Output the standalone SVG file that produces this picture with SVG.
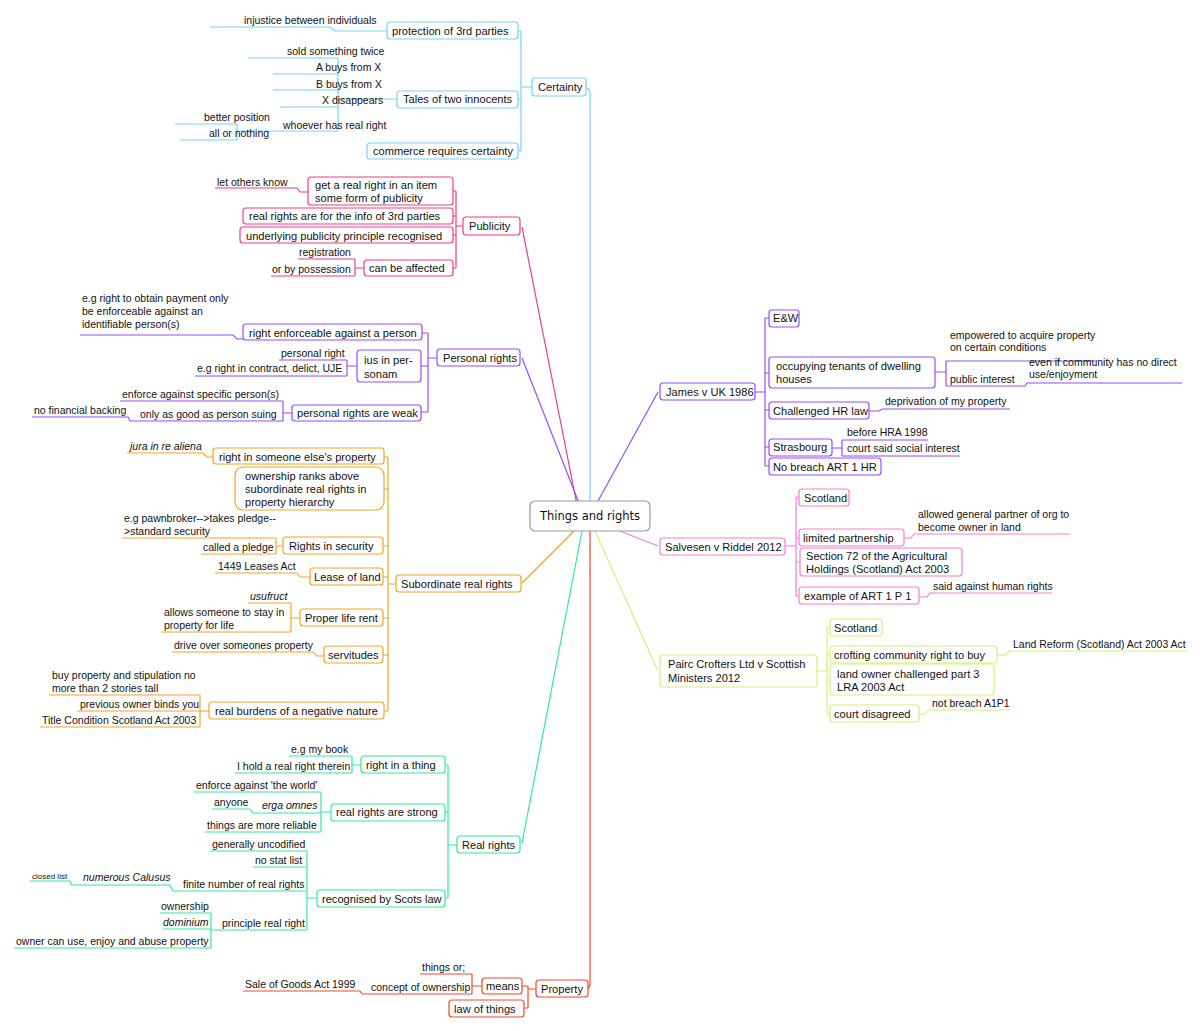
<svg xmlns="http://www.w3.org/2000/svg" width="1200" height="1031" viewBox="0 0 1200 1031">
<style>
text{font-family:"Liberation Sans",Arial,sans-serif;font-size:10.5px;fill:#111}
.b{font-size:11.1px}
.i{font-style:italic}
rect{fill:#fff;stroke-width:1.2}
path,line,polyline{fill:none;stroke-width:1.2}
.cy rect,.cy path,.cy polyline{stroke:#78d2f5}
.pu rect,.pu path,.pu polyline{stroke:#f03c8c}
.pe rect,.pe path,.pe polyline{stroke:#9a4cf5}
.su rect,.su path,.su polyline{stroke:#f7a325}
.re rect,.re path,.re polyline{stroke:#34e8a4}
.pr rect,.pr path,.pr polyline{stroke:#f2482a}
.ja rect,.ja path,.ja polyline{stroke:#9a4cf5}
.sa rect,.sa path,.sa polyline{stroke:#f57ed4}
.pa rect,.pa path,.pa polyline{stroke:#d6f07a}
</style>
<g id="connectors">
<path d="M590,501 V91 L586,87" stroke="#78d2f5"/>
<path d="M577,505 L522,227" stroke="#f03c8c"/>
<path d="M579,503 L522,358" stroke="#9a4cf5"/>
<path d="M578,527 L522,583" stroke="#f7a325"/>
<path d="M582,531 L522,843" stroke="#34e8a4"/>
<path d="M590,531 V985 L588,989" stroke="#f2482a"/>
<path d="M598,501 L658,392" stroke="#9a4cf5"/>
<path d="M620,531 L658,546" stroke="#f57ed4"/>
<path d="M595,531 L658,671" stroke="#d6f07a"/>
</g>
<g id="center"><rect x="530" y="501" width="120" height="30" rx="5" stroke="#999" stroke-width="1.2"/><text x="590" y="520" text-anchor="middle" style="font-size:11.5px;font-family:'DejaVu Sans',sans-serif">Things and rights</text></g>

<g id="certainty" class="cy">
<path d="M521,31 V151 M521,87 H532 M518,31 H521 M518,99 H521 M518,151 H521"/>
<rect x="532" y="78" width="54" height="18" rx="3"/><text class="b" x="538" y="91">Certainty</text>
<rect x="387" y="22" width="131" height="17" rx="3"/><text class="b" x="392" y="35">protection of 3rd parties</text>
<polyline points="210,27 330,27 335,31 387,31"/><text x="244" y="24">injustice between individuals</text>
<rect x="397" y="91" width="121" height="17" rx="3"/><text class="b" x="403" y="103">Tales of two innocents</text>
<path d="M248,58 H338 M273,74 H338 M273,90 H338 M280,107 H338 M237,131 H338 M338,58 V131 M338,99 H397"/>
<text x="287" y="55">sold something twice</text><text x="316" y="71">A buys from X</text><text x="316" y="88">B buys from X</text><text x="322" y="104">X disappears</text><text x="283" y="129">whoever has real right</text>
<path d="M175,124 H237 M180,140 H237 M237,124 V140"/>
<text x="204" y="121">better position</text><text x="209" y="137">all or nothing</text>
<rect x="367" y="143" width="151" height="16" rx="3"/><text class="b" x="373" y="155">commerce requires certainty</text>
</g>

<g id="publicity" class="pu">
<path d="M456,191 V268 M456,226 H463 M453,191 H456 M453,216 H456 M453,235 H456 M453,268 H456"/>
<rect x="463" y="217" width="57" height="18" rx="3"/><text class="b" x="469" y="230">Publicity</text>
<rect x="308" y="177" width="145" height="28" rx="3"/><text class="b" x="315" y="189">get a real right in an item</text><text class="b" x="315" y="202">some form of publicity</text>
<polyline points="215,188 297,188 300,192 308,192"/><text x="217" y="186">let others know</text>
<rect x="243" y="208" width="210" height="16" rx="3"/><text class="b" x="249" y="220">real rights are for the info of 3rd parties</text>
<rect x="240" y="227" width="213" height="16" rx="3"/><text class="b" x="246" y="240">underlying publicity principle recognised</text>
<rect x="364" y="260" width="89" height="16" rx="3"/><text class="b" x="369" y="272">can be affected</text>
<path d="M298,259 H355 M271,276 H355 M355,259 V276 M355,268 H364"/>
<text x="299" y="256">registration</text><text x="272" y="273">or by possession</text>
</g>

<g id="personal" class="pe">
<path d="M428,333 V412 M428,358 H437 M422,333 H428 M421,366 H428 M421,412 H428"/>
<rect x="437" y="349" width="83" height="17" rx="3"/><text class="b" x="443" y="362">Personal rights</text>
<rect x="243" y="324" width="179" height="16" rx="3"/><text class="b" x="249" y="337">right enforceable against a person</text>
<polyline points="80,335 233,335 237,339 243,339"/>
<text x="82" y="302">e.g right to obtain payment only</text><text x="82" y="315">be enforceable against an</text><text x="82" y="328">identifiable person(s)</text>
<rect x="357" y="350" width="64" height="32" rx="3"/><text class="b" x="364" y="364">ius in per-</text><text class="b" x="364" y="378">sonam</text>
<path d="M279,360 H347 M195,376 H347 M347,360 V376 M347,366 H357"/>
<text x="281" y="357">personal right</text><text x="197" y="372">e.g right in contract, delict, UJE</text>
<rect x="292" y="405" width="129" height="16" rx="3"/><text class="b" x="297" y="417">personal rights are weak</text>
<path d="M120,401 H283 M130,421 H283 M283,401 V421 M283,413 H292"/>
<text x="122" y="398">enforce against specific person(s)</text><text x="140" y="418">only as good as person suing</text>
<polyline points="32,417 128,417 130,421"/><text x="34" y="414">no financial backing</text>
</g>

<g id="subordinate" class="su">
<path d="M388,457 V711 M388,584 H396 M384,457 H388 M384,489 H388 M383,546 H388 M383,577 H388 M383,618 H388 M383,655 H388 M384,711 H388"/>
<rect x="396" y="575" width="125" height="17" rx="3"/><text class="b" x="401" y="588">Subordinate real rights</text>
<rect x="213" y="448" width="171" height="16" rx="3"/><text class="b" x="219" y="461">right in someone else's property</text>
<polyline points="127,453 203,453 207,457 213,457"/><text class="i" x="130" y="450">jura in re aliena</text>
<rect x="235" y="467" width="149" height="43" rx="8"/><text class="b" x="245" y="480">ownership ranks above</text><text class="b" x="245" y="493">subordinate real rights in</text><text class="b" x="245" y="506">property hierarchy</text>
<rect x="283" y="537" width="100" height="17" rx="3"/><text class="b" x="289" y="550">Rights in security</text>
<path d="M122,538 H276 M201,554 H276 M276,538 V554 M276,546 H283"/>
<text x="124" y="522">e.g pawnbroker--&gt;takes pledge--</text><text x="124" y="535">&gt;standard security</text><text x="203" y="551">called a pledge</text>
<rect x="310" y="568" width="73" height="17" rx="3"/><text class="b" x="314" y="581">Lease of land</text>
<polyline points="215,573 297,573 300,577 310,577"/><text x="218" y="570">1449 Leases Act</text>
<rect x="300" y="609" width="83" height="17" rx="3"/><text class="b" x="305" y="622">Proper life rent</text>
<path d="M248,603 H291 M162,632 H291 M291,603 V632 M291,618 H300"/>
<text class="i" x="250" y="600">usufruct</text><text x="164" y="616">allows someone to stay in</text><text x="164" y="629">property for life</text>
<rect x="324" y="646" width="59" height="17" rx="3"/><text class="b" x="328" y="659">servitudes</text>
<polyline points="172,652 313,652 317,656 324,656"/><text x="174" y="649">drive over someones property</text>
<rect x="209" y="702" width="175" height="17" rx="3"/><text class="b" x="215" y="715">real burdens of a negative nature</text>
<path d="M49,695 H200 M77,711 H200 M40,727 H200 M200,695 V727 M200,711 H209"/>
<text x="52" y="679">buy property and stipulation no</text><text x="52" y="692">more than 2 stories tall</text><text x="80" y="708">previous owner binds you</text><text x="42" y="724">Title Condition Scotland Act 2003</text>
</g>

<g id="realrights" class="re">
<path d="M448,765 V898 M448,845 H457 M445,765 H448 M445,812 H448 M445,898 H448"/>
<rect x="457" y="836" width="63" height="17" rx="3"/><text class="b" x="462" y="849">Real rights</text>
<rect x="361" y="756" width="84" height="17" rx="3"/><text class="b" x="366" y="769">right in a thing</text>
<path d="M289,756 H352 M235,773 H352 M352,756 V773 M352,765 H361"/>
<text x="291" y="753">e.g my book</text><text x="237" y="770">I hold a real right therein</text>
<rect x="331" y="804" width="114" height="17" rx="3"/><text class="b" x="336" y="816">real rights are strong</text>
<path d="M194,792 H321 M253,813 H321 M205,832 H321 M321,792 V832 M321,812 H331"/>
<polyline points="212,809 250,809 253,813"/>
<text x="196" y="789">enforce against 'the world'</text><text class="i" x="262" y="809">erga omnes</text><text x="214" y="806">anyone</text><text x="207" y="829">things are more reliable</text>
<rect x="317" y="890" width="128" height="17" rx="3"/><text class="b" x="322" y="903">recognised by Scots law</text>
<path d="M210,851 H307 M253,867 H307 M173,891 H307 M222,930 H307 M307,851 V930 M307,898 H317"/>
<text x="212" y="848">generally uncodified</text><text x="255" y="864">no stat list</text><text x="183" y="888">finite number of real rights</text><text x="222" y="927">principle real right</text>
<polyline points="30,881 70,881 72,885 170,885 173,891"/>
<text class="i" x="83" y="881">numerous Calusus</text><text x="32" y="879" style="font-size:8px">closed list</text>
<path d="M160,913 H211 M163,929 H211 M14,948 H211 M211,913 V948 M211,930 H222"/>
<text x="161" y="910">ownership</text><text class="i" x="163" y="926">dominium</text><text x="16" y="945">owner can use, enjoy and abuse property</text>
</g>

<g id="property" class="pr">
<path d="M528,986 V1008 M528,989 H536 M522,986 H528 M524,1008 H528"/>
<rect x="536" y="980" width="52" height="17" rx="3"/><text class="b" x="541" y="993">Property</text>
<rect x="482" y="978" width="40" height="16" rx="3"/><text class="b" x="486" y="990">means</text>
<path d="M420,974 H472 M362,994 H472 M472,974 V994 M472,986 H482"/>
<text x="422" y="971">things or;</text><text x="371" y="991">concept of ownership</text>
<polyline points="243,991 360,991 362,994"/><text x="245" y="988">Sale of Goods Act 1999</text>
<rect x="449" y="1000" width="75" height="17" rx="3"/><text class="b" x="454" y="1013">law of things</text>
</g>

<g id="james" class="ja">
<path d="M765,318 V466 M755,392 H765 M765,318 H769 M765,373 H769 M765,410 H769 M765,447 H769 M765,466 H769"/>
<rect x="660" y="383" width="95" height="17" rx="3"/><text class="b" x="666" y="396">James v UK 1986</text>
<rect x="769" y="310" width="30" height="17" rx="3"/><text class="b" x="773" y="322">E&amp;W</text>
<rect x="769" y="357" width="166" height="31" rx="3"/><text class="b" x="776" y="370">occupying tenants of dwelling</text><text class="b" x="776" y="383">houses</text>
<path d="M946,361 H1095 M946,386 H1025 M946,361 V386 M935,372 H946"/>
<polyline points="1025,386 1027,383 1182,383"/>
<text x="950" y="339">empowered to acquire property</text><text x="950" y="351">on certain conditions</text><text x="950" y="383">public interest</text>
<text x="1029" y="366">even if community has no direct</text><text x="1029" y="378">use/enjoyment</text>
<rect x="769" y="402" width="100" height="17" rx="3"/><text class="b" x="773" y="415">Challenged HR law</text>
<polyline points="869,411 879,411 882,409 1010,409"/><text x="885" y="405">deprivation of my property</text>
<rect x="769" y="439" width="63" height="17" rx="3"/><text class="b" x="773" y="451">Strasbourg</text>
<path d="M842,440 H928 M842,456 H960 M842,440 V456 M832,448 H842"/>
<text x="847" y="436">before HRA 1998</text><text x="847" y="452">court said social interest</text>
<rect x="769" y="458" width="112" height="17" rx="3"/><text class="b" x="773" y="471">No breach ART 1 HR</text>
</g>

<g id="salvesen" class="sa">
<path d="M796,497 V596 M785,546 H796 M796,497 H799 M796,538 H799 M796,562 H800 M796,596 H799"/>
<rect x="660" y="538" width="125" height="17" rx="3"/><text class="b" x="665" y="551">Salvesen v Riddel 2012</text>
<rect x="799" y="489" width="50" height="17" rx="3"/><text class="b" x="804" y="502">Scotland</text>
<rect x="799" y="529" width="105" height="17" rx="3"/><text class="b" x="803" y="542">limited partnership</text>
<polyline points="904,538 911,538 914,534 1070,534"/><text x="918" y="518">allowed general partner of org to</text><text x="918" y="531">become owner in land</text>
<rect x="800" y="548" width="162" height="28" rx="3"/><text class="b" x="806" y="560">Section 72 of the Agricultural</text><text class="b" x="806" y="573">Holdings (Scotland) Act 2003</text>
<rect x="799" y="587" width="120" height="17" rx="3"/><text class="b" x="804" y="600">example of ART 1 P 1</text>
<polyline points="919,597 927,597 930,593 1052,593"/><text x="933" y="590">said against human rights</text>
</g>

<g id="pairc" class="pa">
<path d="M827,627 V714 M817,671 H827 M827,627 H830 M827,655 H830 M827,680 H830 M827,714 H830"/>
<rect x="660" y="655" width="157" height="32" rx="3"/><text class="b" x="668" y="668">Pairc Crofters Ltd v Scottish</text><text class="b" x="668" y="682">Ministers 2012</text>
<rect x="830" y="619" width="52" height="17" rx="3"/><text class="b" x="834" y="632">Scotland</text>
<rect x="830" y="646" width="167" height="17" rx="3"/><text class="b" x="834" y="659">crofting community right to buy</text>
<polyline points="997,655 1006,655 1009,651 1188,651"/><text x="1013" y="648">Land Reform (Scotland) Act 2003 Act</text>
<rect x="830" y="664" width="164" height="31" rx="3"/><text class="b" x="837" y="678">land owner challenged part 3</text><text class="b" x="837" y="691">LRA 2003 Act</text>
<rect x="830" y="705" width="89" height="17" rx="3"/><text class="b" x="834" y="718">court disagreed</text>
<polyline points="919,714 925,714 928,710 1010,710"/><text x="932" y="707">not breach A1P1</text>
</g>
</svg>
